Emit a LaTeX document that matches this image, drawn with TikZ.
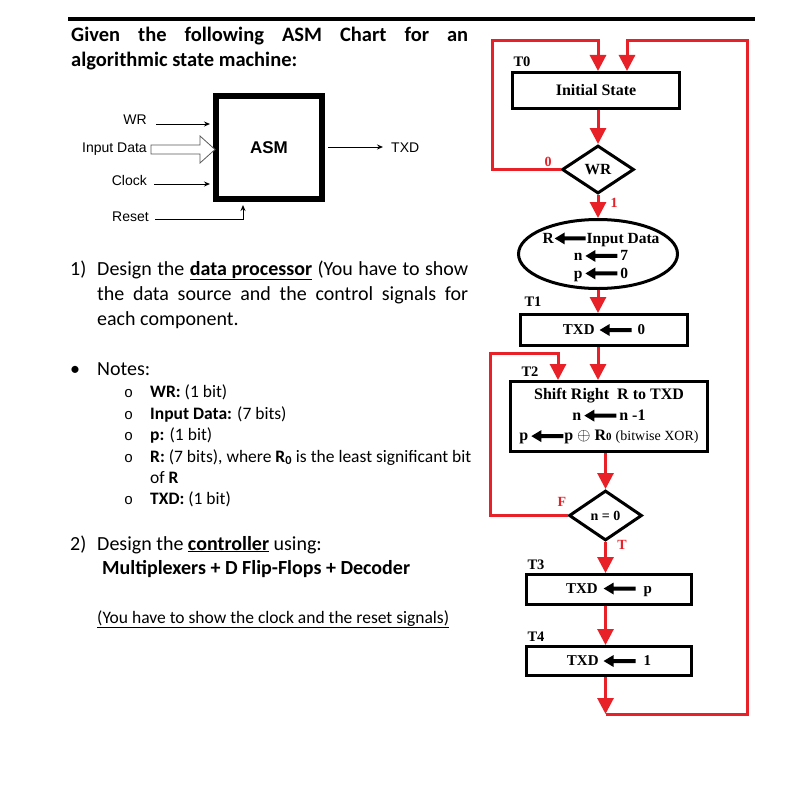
\documentclass[tikz,border=0pt]{standalone}
\usepackage{fontspec}
\setmainfont{Carlito}
\newfontfamily\tnr{Liberation Serif}
\newfontfamily\arial{Liberation Sans}
\newfontfamily\cour{Liberation Mono}
\usetikzlibrary{arrows.meta,shapes.geometric}
\definecolor{asmred}{RGB}{232,32,40}
\newcommand\barr[1][32]{\tikz[baseline={(0pt,-4.8pt)}]\fill[black] (0pt,0pt) -- (10pt,6pt) -- (10pt,2pt) -- (#1pt,2pt) -- (#1pt,-2pt) -- (10pt,-2pt) -- (10pt,-6pt) -- cycle;}
\begin{document}
\begin{tikzpicture}[x=1pt,y=-1pt,
  flow/.style={draw=asmred,line width=3pt,-{Triangle[width=16pt,length=16pt]}},
  statebox/.style={draw,line width=3pt,inner sep=0pt,font=\tnr\bfseries\fontsize{16}{19}\selectfont},
  tlabel/.style={font=\tnr\bfseries\fontsize{14.5}{16}\selectfont,inner sep=0pt},
  rlabel/.style={text=asmred,font=\tnr\bfseries\fontsize{14}{16}\selectfont,inner sep=0pt},
  bodytext/.style={anchor=base west,inner sep=0pt,font=\fontsize{20}{24}\selectfont},
  notetext/.style={anchor=base west,inner sep=0pt,font=\fontsize{17.5}{21}\selectfont},
  omark/.style={anchor=base,inner sep=0pt,font=\cour\fontsize{15}{18}\selectfont},
  sig/.style={font=\arial\fontsize{14}{16}\selectfont,inner sep=0pt},
  sigarr/.style={line width=1pt,-{Stealth[length=6pt,width=5pt]}}
]
\fill[white] (0,0) rectangle (792,784);
\useasboundingbox (0,0) rectangle (792,784);
% top rule
\coordinate (ruleL) at (68,19);
\coordinate (ruleR) at (755,19);
\draw[line width=3.5pt] (ruleL) -- (ruleR);

% heading
\node[bodytext,font=\bfseries\fontsize{20.5}{24}\selectfont] (h1) at (71,41.7) {\makebox[397pt][s]{Given the following ASM Chart for an}};
\node[bodytext,font=\bfseries\fontsize{20.5}{24}\selectfont] (h2) at (71,66.7) {algorithmic state machine:};

% ASM block
\node[draw,line width=6pt,minimum width=106pt,minimum height=103pt,inner sep=0pt,font=\arial\bfseries\fontsize{17}{20}\selectfont] (asm) at (269,147.5) {ASM};
\node[sig,anchor=east] (wrl) at (147,120) {WR};
\node[sig,anchor=east] (idl) at (147,149.5) {Input Data};
\node[sig,anchor=east] (ckl) at (147,180) {Clock};
\node[sig,anchor=east] (rsl) at (149,216.5) {Reset};
\node[sig,anchor=west] (txl) at (391,148) {TXD};
\coordinate (wrs) at (156,124);
\coordinate (cks) at (154,184);
\coordinate (rss) at (155,219);
\coordinate (txe) at (383,147);
\draw[sigarr,shorten >=3pt] (wrs) -- (wrs -| asm.west);
\draw[sigarr,shorten >=3pt] (cks) -- (cks -| asm.west);
\draw[sigarr,shorten >=3pt] (rss) -| ([xshift=-26pt]asm.south);
\draw[sigarr,shorten <=3pt] (txe -| asm.east) -- (txe);
\draw[draw=black!65,line width=0.8pt,fill=white] (151,145) -- (200,145) -- (200,136) -- (215,149.5) -- (200,163) -- (200,154) -- (151,154) -- cycle;

% left text
\node[bodytext] (q1n) at (70,275) {1)};
\node[bodytext] (q1a) at (97,275) {\makebox[371pt][s]{Design the \underline{\textbf{data processor}} (You have to show}};
\node[bodytext] (q1b) at (97,300) {\makebox[371pt][s]{the data source and the control signals for}};
\node[bodytext] (q1c) at (97,325) {each component.};
\node[bodytext] (bul) at (70,375) {\textbullet};
\node[bodytext] (notes) at (97,375) {Notes:};
\node[omark] (o1) at (128.5,397) {o};
\node[omark] (o2) at (128.5,419) {o};
\node[omark] (o3) at (128.5,440) {o};
\node[omark] (o4) at (128.5,462) {o};
\node[omark] (o5) at (128.5,504) {o};
\node[notetext] (n1) at (150,397) {\textbf{WR:} (1 bit)};
\node[notetext] (n2) at (150,419) {\textbf{Input Data:} (7 bits)};
\node[notetext] (n3) at (150,440) {\textbf{p:} (1 bit)};
\node[notetext] (n4) at (150,462) {\textbf{R:} (7 bits), where \textbf{R\textsubscript{0}} is the least significant bit};
\node[notetext] (n4b) at (150,483) {of \textbf{R}};
\node[notetext] (n5) at (150,504) {\textbf{TXD:} (1 bit)};
\node[bodytext] (q2n) at (70,550) {2)};
\node[bodytext] (q2a) at (97,550) {Design the \underline{\textbf{controller}} using:};
\node[bodytext] (q2b) at (102,574) {\textbf{Multiplexers + D Flip-Flops + Decoder}};
\node[notetext] (q2c) at (97,623) {\underline{(You have to show the clock and the reset signals)}};

% ASM chart
\node[statebox,minimum width=167pt,minimum height=36pt] (t0box) at (596,90.5) {Initial State};
\node[draw,line width=3pt,diamond,minimum width=72pt,minimum height=48pt,inner sep=0pt,font=\tnr\bfseries\fontsize{15.5}{18}\selectfont] (wr) at (598,169.5) {WR};
\node[draw,line width=3pt,ellipse,minimum width=159pt,minimum height=69pt,inner sep=0pt] (ell) at (598,254) {};
\node[inner sep=0pt,align=center,font=\tnr\bfseries\fontsize{15.5}{17.5}\selectfont] (elltext) at (601,257) {R\kern1pt\barr[31]\kern1pt Input Data\\n\kern3pt\barr\kern3pt 7\\p\kern3pt\barr\kern3pt 0};
\node[statebox,minimum width=167pt,minimum height=31pt,font=\tnr\bfseries\fontsize{15}{18}\selectfont] (t1box) at (604,330) {TXD\kern5pt\barr\kern6pt 0};
\node[statebox,minimum width=197pt,minimum height=70pt,align=center,font=\tnr\bfseries\fontsize{16}{20.5}\selectfont] (t2box) at (609,416.5) {Shift Right\ \ R to TXD\\n\kern3pt\barr\kern3pt n -1\\p\kern3pt\barr\kern1pt p $\oplus$ R{\fontsize{11}{11}\selectfont 0} {\mdseries\fontsize{14}{15}\selectfont(bitwise XOR)}};
\node[draw,line width=3pt,diamond,minimum width=73pt,minimum height=50pt,inner sep=0pt,font=\tnr\bfseries\fontsize{14}{16}\selectfont] (n0) at (605.5,515.5) {n = 0};
\node[statebox,minimum width=165pt,minimum height=30pt,font=\tnr\bfseries\fontsize{15}{18}\selectfont] (t3box) at (609,589.5) {TXD\kern6pt\barr\kern8pt p};
\node[statebox,minimum width=165pt,minimum height=29pt,font=\tnr\bfseries\fontsize{15}{18}\selectfont] (t4box) at (609,661) {TXD\kern5pt\barr\kern8pt 1};

\node[tlabel] (lt0) at (522,62) {T0};
\node[tlabel] (lt1) at (533,302) {T1};
\node[tlabel] (lt2) at (530,372) {T2};
\node[tlabel] (lt3) at (536,565) {T3};
\node[tlabel] (lt4) at (536,637) {T4};
\node[rlabel] (r0) at (548,162) {0};
\node[rlabel] (r1) at (614,203) {1};
\node[rlabel] (rf) at (562,502) {F};
\node[rlabel] (rt) at (622,545) {T};

\coordinate (ltop) at (492,41);
\coordinate (rtop) at (747,41);
\coordinate (lmid) at (490,353);
\coordinate (endpt) at (605.5,714);

\draw[flow] (t0box.south -| wr.north) -- (wr.north);
\draw[flow] (wr.south) -- (ell.north);
\draw[flow] (ell.south) -- (ell.south |- t1box.north);
\draw[flow] (t1box.south -| ell.south) -- (t2box.north -| ell.south);
\draw[flow] (t2box.south -| n0.north) -- (n0.north);
\draw[flow] (n0.south) -- (n0.south |- t3box.north);
\draw[flow] (t3box.south -| n0.south) -- (t4box.north -| n0.south);
\draw[flow] (t4box.south -| n0.south) -- (endpt);
\draw[flow] (endpt) -| (rtop) -| ([xshift=31pt]t0box.north);
\draw[flow] (wr.west) -| (ltop) -| (t0box.north -| wr.north);
\draw[flow] (n0.west) -| (lmid) -| ([xshift=-51pt]t2box.north);
\end{tikzpicture}
\end{document}
